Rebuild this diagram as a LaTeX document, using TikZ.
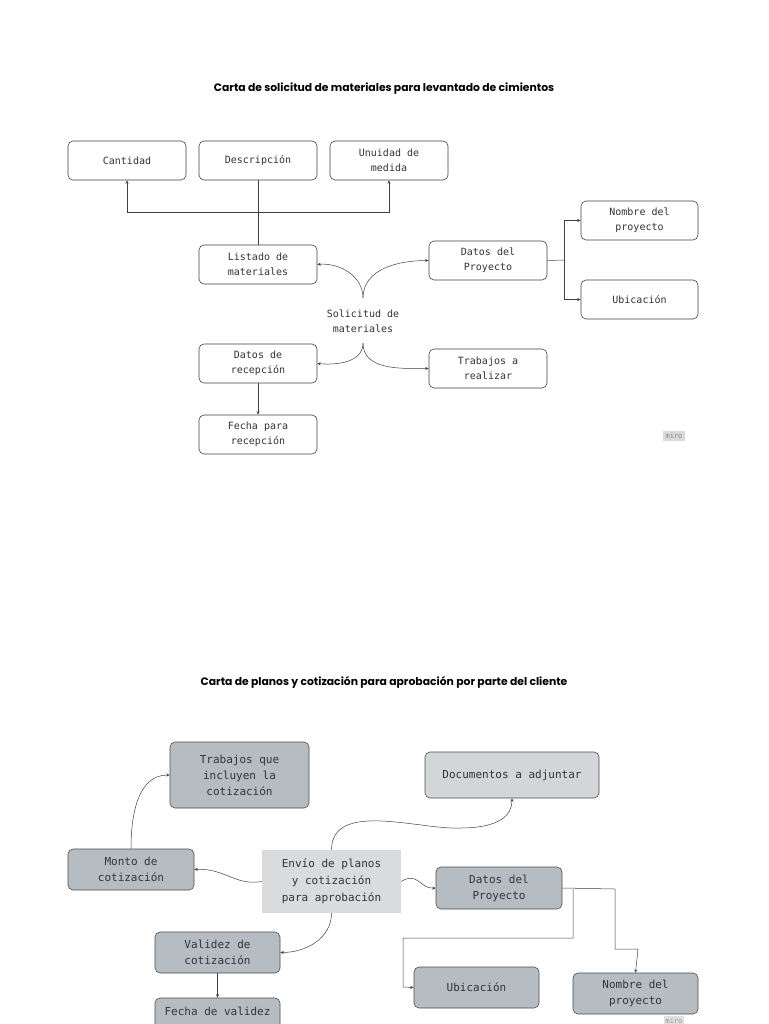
\documentclass[tikz,border=0pt]{standalone}
\usepackage{fontspec}
\setmainfont{DejaVu Sans Mono}
\newfontfamily\titlefont{Poppins}
\usetikzlibrary{arrows.meta}
\definecolor{dk}{HTML}{B5BDC3}
\definecolor{lt}{HTML}{D3D6D9}
\definecolor{ct}{HTML}{D9DBDC}
\begin{document}
\begin{tikzpicture}[x=1pt,y=-1pt,
 box/.style={draw=black!75,rounded corners=5pt,line width=0.6pt,align=center,inner sep=0pt,font=\fontsize{10}{15}\selectfont,text=black!80},
 gbox/.style={box,fill=dk,draw=black!70,font=\fontsize{11}{16}\selectfont},
 ar/.style={draw=black!75,line width=0.5pt,-{Stealth[length=3.5pt,width=3pt]}},
 ln/.style={draw=black!75,line width=0.5pt},
 ttl/.style={font=\titlefont\fontsize{10.8}{12}\selectfont\bfseries}]
\useasboundingbox[fill=white] (0,0) rectangle (768,1024);
\def\bx#1#2#3#4#5#6#7{\node[#1,minimum width=#4-#2,minimum height=#5-#3] (#6) at ({(#2+#4)/2},{(#3+#5)/2}) {#7};}
\node[ttl] (t1) at (384,89) {Carta de solicitud de materiales para levantado de cimientos};
\bx{box}{68}{141}{186}{180}{cant}{Cantidad}
\bx{box}{199}{141}{317}{180}{desc}{Descripción}
\bx{box}{330}{141}{448}{180}{unid}{Unuidad de\\medida}
\bx{box}{199}{245}{317}{284}{list}{Listado de\\materiales}
\bx{box}{429}{241}{547}{280}{dp}{Datos del\\Proyecto}
\bx{box}{581}{201}{698}{240}{nom}{Nombre del\\proyecto}
\bx{box}{581}{280}{698}{319}{ubi}{Ubicación}
\bx{box}{199}{344}{317}{383}{drec}{Datos de\\recepción}
\bx{box}{429}{349}{547}{388}{trab}{Trabajos a\\realizar}
\bx{box}{199}{415}{317}{454}{fecha}{Fecha para\\recepción}
\node[align=center,font=\fontsize{10}{15}\selectfont,text=black!80] (sol) at (363,321) {Solicitud de\\materiales};
\node[fill=black!15,text=black!45,font=\fontsize{7}{8}\selectfont,inner sep=2.5pt] (m1) at (674,436) {miro};
\draw[ln] (list.north) -- (desc.south);
\coordinate (j1) at (258,212);
\draw[ar] (j1) -| (cant.south);
\draw[ar] (j1) -| (unid.south);
\coordinate (s1) at (363,298);\coordinate (s2) at (363,343);
\draw[ar] (s1) to[out=90,in=5] (list.east);
\draw[ar] (s1) to[out=90,in=180] (dp.west);
\draw[ar] (s2) to[out=-90,in=-5] (drec.east);
\draw[ar] (s2) to[out=-90,in=180] (trab.west);
\coordinate (j2) at (564,260);
\draw[ln] (dp.east) -- (j2);
\draw[ar] (j2) |- (nom.west);
\draw[ar] (j2) |- (ubi.west);
\draw[ar] (drec.south) -- (fecha.north);
%
\node[ttl] (t2) at (384,682) {Carta de planos y cotización para aprobación por parte del cliente};
\bx{gbox}{170}{742}{309}{808}{tq}{Trabajos que\\incluyen la\\cotización}
\bx{gbox,fill=lt}{425}{752}{599}{798}{doc}{Documentos a adjuntar}
\bx{gbox}{68}{849}{194}{890}{mon}{Monto de\\cotización}
\node[fill=ct,minimum width=139,minimum height=63,inner sep=0pt,align=center,font=\fontsize{11}{17}\selectfont,text=black!80] (env) at (331.5,881.5) {Envío de planos\\y cotización\\para aprobación};
\bx{gbox}{436}{867}{562}{909}{dp2}{Datos del\\Proyecto}
\bx{gbox}{155}{932}{280}{973}{val}{Validez de\\cotización}
\bx{gbox}{155}{998}{280}{1040}{fv}{Fecha de validez\\ \phantom{x}}
\bx{gbox}{414}{967}{539}{1008}{ubi2}{Ubicación}
\bx{gbox}{573}{973}{698}{1014}{nom2}{Nombre del\\proyecto}
\node[fill=black!12,text=black!40,font=\fontsize{7}{8}\selectfont,inner sep=2pt] (m2) at (674,1021) {miro};
\draw[ar] (mon.north) to[out=90,in=180] (tq.west);
\draw[ar] (env.north) .. controls (332,800) and (420,830) .. (460,828) .. controls (500,828) and (512,815) .. (doc.south);
\draw[ar] (env.west) .. controls (235,886) and (225,868) .. (mon.east);
\draw[ar] (env.east) .. controls (418,871) and (420,889) .. (dp2.west);
\draw[ar] (env.south) to[out=-90,in=0] (val.east);
\draw[ar] (val.south) -- (fv.north);
\coordinate (k1) at (615,889);\coordinate (k2) at (615,949);\coordinate (k3) at (638,949);
\draw[ar] (dp2.east) -- (k1) -- (k2) -- (k3) -- (nom2.north);
\coordinate (q1) at (573,889);\coordinate (q2) at (573,938);\coordinate (q3) at (403,938);\coordinate (q4) at (403,987);
\draw[ar] (q1) -- (q2) -- (q3) -- (q4) -- (ubi2.west);
\end{tikzpicture}
\end{document}
